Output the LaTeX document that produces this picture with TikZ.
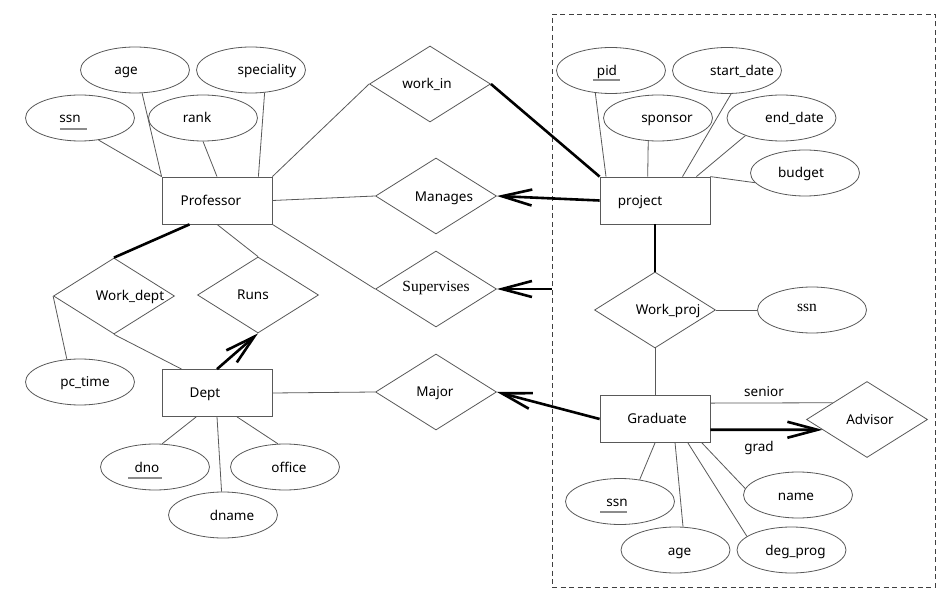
\documentclass[tikz,border=0pt]{standalone}
\usepackage{fontspec}
\setmainfont{Noto Sans}
\newfontfamily\serifx{Liberation Serif}
\usetikzlibrary{shapes.geometric,arrows.meta}
\begin{document}
\begin{tikzpicture}[x=1pt,y=-1pt,
  font=\fontsize{13.5}{16}\selectfont,
  shp/.style={draw=black!65,line width=0.8pt,inner sep=0pt},
  ent/.style={shp,rectangle,minimum width=110pt,minimum height=47pt},
  attr/.style={shp,ellipse,minimum width=109pt,minimum height=46pt},
  rel/.style={shp,diamond,minimum width=121pt,minimum height=76pt},
  lbl/.style={inner sep=0pt,text=black,text height=10pt,text depth=0pt},
  slbl/.style={lbl,font=\serifx\fontsize{15.5}{18}\selectfont},
  ln/.style={draw=black!65,line width=0.8pt},
  bold/.style={draw=black,line width=2.6pt},
  arr/.style={bold,-{Straight Barb[length=30pt,width=16pt]}},
  ul/.style={draw=black!45,line width=1.3pt},
  grp/.style={draw=black!75,line width=0.9pt,dash pattern=on 5pt off 3.5pt,rectangle,inner sep=0pt}
]
\fill[white] (0,0) rectangle (945,601);
\useasboundingbox (0,0) rectangle (945,601);

% aggregation box
\node[grp,minimum width=383pt,minimum height=573pt] (agg) at (743.5,300.5) {};

% entities
\node[ent,label={[lbl,xshift=-6]center:Professor}] (prof) at (217,200.5) {};
\node[ent,label={[lbl,xshift=-12]center:Dept}] (dept) at (217,393) {};
\node[ent,label={[lbl,xshift=-15]center:project}] (proj) at (655,200.5) {};
\node[ent,label={[lbl,xshift=2]center:Graduate}] (grad) at (655,419) {};

% relationships
\node[rel,label={[lbl,xshift=-3]center:work\_in}] (workin) at (430,84) {};
\node[rel,label={[lbl,xshift=8,yshift=-1]center:Manages}] (manages) at (436,196) {};
\node[rel,label={[slbl,yshift=2]center:Supervises}] (sup) at (436,289) {};
\node[rel,label={[lbl,xshift=16]center:Work\_dept}] (wdept) at (114,296) {};
\node[rel,label={[lbl,xshift=-5]center:Runs}] (runs) at (258,295) {};
\node[rel,label={[lbl,xshift=-1]center:Major}] (major) at (436,392) {};
\node[rel,label={[lbl,xshift=13]center:Work\_proj}] (wproj) at (655,310) {};
\node[rel,label={[lbl,xshift=3]center:Advisor}] (adv) at (867,419.5) {};

% Professor attributes
\node[attr,label={[lbl,xshift=-10]center:ssn}] (ssnP) at (80,118) {};
\node[attr,label={[lbl,xshift=-9]center:age}] (ageP) at (135,70) {};
\node[attr,label={[lbl,xshift=-6]center:rank}] (rankP) at (203,118) {};
\node[attr,label={[lbl,xshift=16]center:speciality}] (specP) at (251,70) {};

% Dept attributes
\node[attr,label={[lbl,xshift=5]center:pc\_time}] (pct) at (80,382) {};
\node[attr,label={[lbl,xshift=-8]center:dno}] (dno) at (155,467) {};
\node[attr,label={[lbl,xshift=4]center:office}] (office) at (285,467) {};
\node[attr,label={[lbl,xshift=9]center:dname}] (dname) at (223,515) {};

% project attributes
\node[attr,label={[lbl,xshift=-4]center:pid}] (pid) at (611,70.5) {};
\node[attr,label={[lbl,xshift=15]center:start\_date}] (sdate) at (727,70.5) {};
\node[attr,label={[lbl,xshift=9]center:sponsor}] (spon) at (658,118) {};
\node[attr,label={[lbl,xshift=13]center:end\_date}] (edate) at (781.5,118) {};
\node[attr,label={[lbl,xshift=-4]center:budget}] (budget) at (805,173) {};

% Work_proj attribute
\node[attr,label={[slbl,xshift=-5,yshift=3]center:ssn}] (ssnW) at (812,310) {};

% Graduate attributes
\node[attr,label={[lbl,xshift=-3]center:ssn}] (ssnG) at (620,501.5) {};
\node[attr,label={[lbl,xshift=4]center:age}] (ageG) at (675.5,550) {};
\node[attr,label={[lbl,xshift=4]center:deg\_prog}] (degp) at (791.5,550) {};
\node[attr,label={[lbl,xshift=-2]center:name}] (name) at (798,495) {};

% role labels
\node[lbl] (lsenior) at (764,392) {senior};
\node[lbl] (lgrad) at (759,446) {grad};

% key underlines
\draw[ul] ([xshift=-20pt,yshift=-11pt]ssnP.center) -- ++(27,0);
\draw[ul] ([xshift=-18pt,yshift=-9.5pt]pid.center) -- ++(27,0);
\draw[ul] ([xshift=-27pt,yshift=-11pt]dno.center) -- ++(34,0);
\draw[ul] ([xshift=-20pt,yshift=-10.5pt]ssnG.center) -- ++(27,0);

% Professor connectors
\draw[ln] (ssnP.-50) -- (prof.north west);
\draw[ln] (ageP.-73) -- (prof.north west);
\draw[ln] (rankP.south) -- (prof.north);
\draw[ln] (specP.-59) -- (prof.30);
\draw[ln] (prof.north east) -- (workin.west);
\draw[ln] (prof.east) -- (manages.west);
\draw[ln] (prof.south east) -- (sup.west);
\draw[ln] (prof.south) -- (runs.north);
\draw[bold] (prof.-139) -- (wdept.north);

% Dept connectors
\draw[ln] (wdept.west) -- (pct.120);
\draw[ln] (wdept.south) -- (dept.146);
\draw[arr] (dept.north) -- (runs.south);
\draw[ln] (dept.east) -- (major.west);
\draw[ln] (dno.73) -- (dept.-131);
\draw[ln] (dept.south) -- (dname);
\draw[ln] (office.107) -- (dept.-50);

% project connectors
\draw[bold] (workin.east) -- (proj.north west);
\draw[arr] (proj.west) -- (manages.east);
\draw[arr] (agg.west |- sup.east) -- (sup.east);
\draw[ln] (pid.-125) -- (proj.154);
\draw[ln] (spon.-113) -- (proj.107);
\draw[ln] (sdate.-80) -- (proj.41);
\draw[ln] (edate.-154) -- (proj.30);
\draw[ln] (budget.-169) -- (proj.north east);
\draw[bold] (proj.south) -- (wproj.north);
\draw[ln] (wproj.east) -- (ssnW.west);
\draw[ln] (wproj.south) -- (grad.north);

% Graduate connectors
\draw[arr] (grad.west) -- (major.east);
\draw[ln] (grad.16) -- (adv.154);
\draw[arr] (grad.-11) -- (adv.-167);
\draw[ln] (ssnG.48) -- (grad.south);
\draw[ln] (ageG.72) -- (grad.-50);
\draw[ln] (degp.163) -- (grad.-36);
\draw[ln] (name.173) -- (grad.-27);
\end{tikzpicture}
\end{document}
